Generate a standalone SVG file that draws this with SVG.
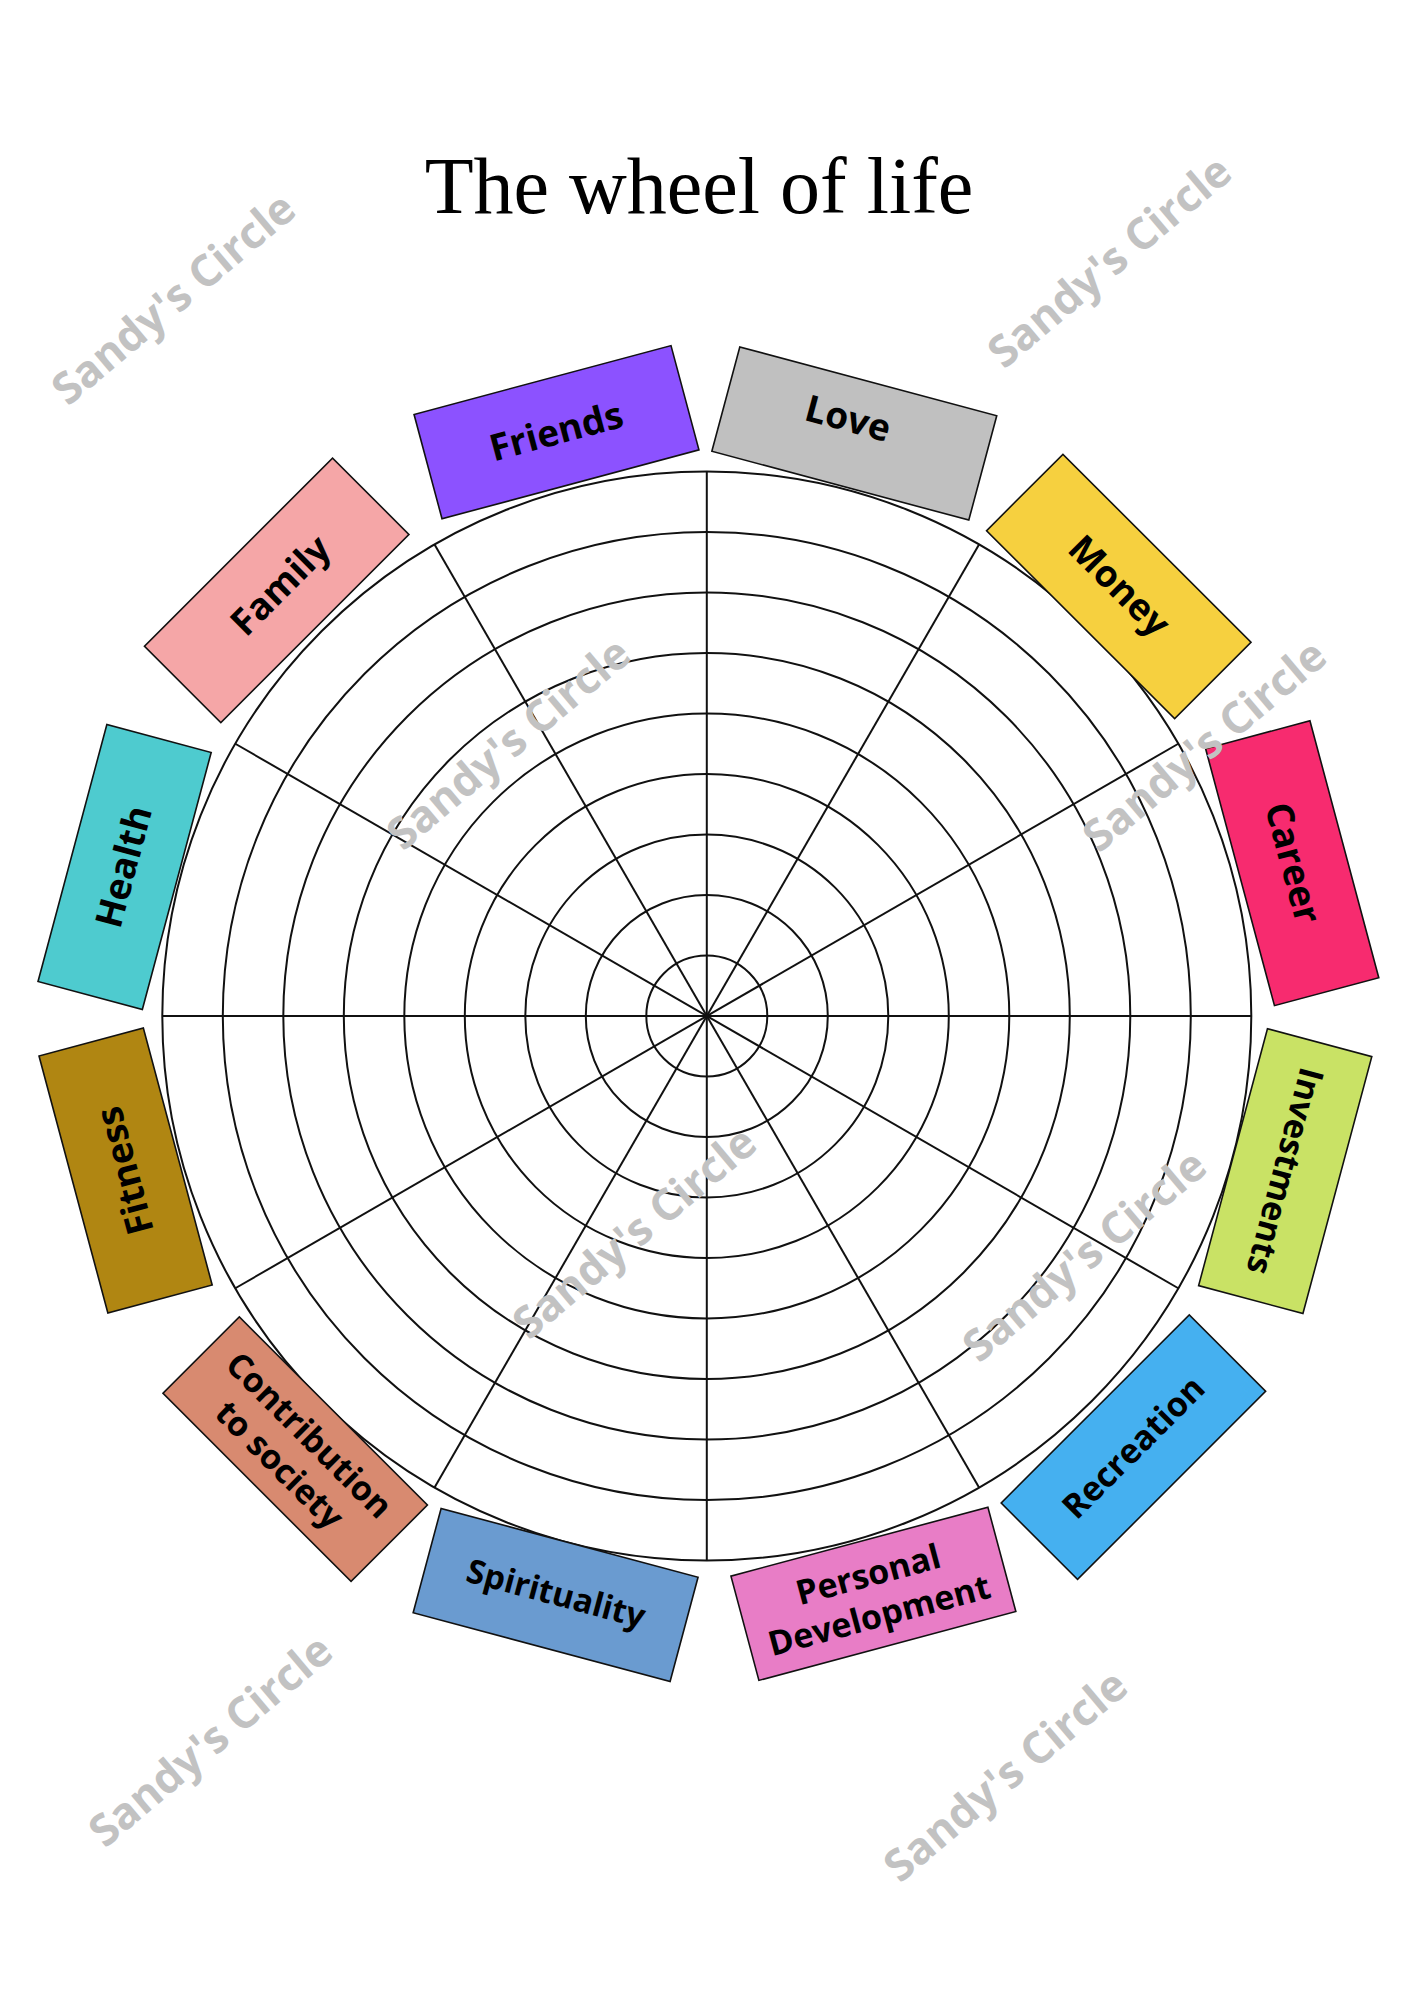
<svg xmlns="http://www.w3.org/2000/svg" width="1414" height="2000" viewBox="0 0 1414 2000">
<style>
.ring{fill:none;stroke:#111;stroke-width:2}
.spoke{stroke:#111;stroke-width:2}
.box{stroke:#111;stroke-width:1.6}
.lbl{font-family:"Open Sans","Noto Sans",sans-serif;font-weight:700;font-size:37px;fill:#000;text-anchor:middle}
.lbl2{font-family:"Open Sans","Noto Sans",sans-serif;font-weight:700;font-size:34px;fill:#000;text-anchor:middle}
.wm{font-family:"Open Sans","Noto Sans",sans-serif;font-weight:700;font-size:44px;fill:#c2c2c2;text-anchor:middle}
.title{font-family:"Liberation Serif","Times New Roman",serif;font-size:80px;fill:#000;text-anchor:middle}
</style>
<rect width="1414" height="2000" fill="#fff"/>
<text class="title" x="699" y="213">The wheel of life</text>
<g id="wheel" transform="translate(706.8,1016)">
<circle class="ring" r="60.5"/>
<circle class="ring" r="121"/>
<circle class="ring" r="181.5"/>
<circle class="ring" r="242"/>
<circle class="ring" r="302.5"/>
<circle class="ring" r="363"/>
<circle class="ring" r="423.5"/>
<circle class="ring" r="484"/>
<circle class="ring" r="544.5"/>
</g>
<g id="connectors" transform="translate(706.8,1016)">
<line class="spoke" x1="-544.5" y1="0" x2="544.5" y2="0"/>
<line class="spoke" x1="0" y1="-544.5" x2="0" y2="544.5"/>
<line class="spoke" x1="-471.5" y1="-272.25" x2="471.5" y2="272.25"/>
<line class="spoke" x1="-471.5" y1="272.25" x2="471.5" y2="-272.25"/>
<line class="spoke" x1="-272.25" y1="-471.5" x2="272.25" y2="471.5"/>
<line class="spoke" x1="-272.25" y1="471.5" x2="272.25" y2="-471.5"/>
</g>
<g id="friends" transform="translate(556.5,432.2) rotate(-15)">
<rect class="box" x="-133" y="-54" width="266" height="108" fill="#8c52ff"/>
<text class="lbl" y="12">Friends</text>
</g>
<g id="love" transform="translate(854.3,433.5) rotate(15)">
<rect class="box" x="-133" y="-54" width="266" height="108" fill="#c0c0c0"/>
<text class="lbl" x="-10" y="0">Love</text>
</g>
<g id="money" transform="translate(1118.8,586.5) rotate(45)">
<rect class="box" x="-133" y="-54" width="266" height="108" fill="#f6d03f"/>
<text class="lbl" y="12">Money</text>
</g>
<g id="career" transform="translate(1292.2,863.2) rotate(75)">
<rect class="box" x="-133" y="-54" width="266" height="108" fill="#f72b6f"/>
<text class="lbl" y="12">Career</text>
</g>
<g id="investments" transform="translate(1285.2,1171.1) rotate(105)">
<rect class="box" x="-133" y="-54" width="266" height="108" fill="#c9e265"/>
<text class="lbl" y="12" style="font-size:34px">Investments</text>
</g>
<g id="recreation" transform="translate(1133.4,1447.2) rotate(-45)">
<rect class="box" x="-133" y="-54" width="266" height="108" fill="#45b0f0"/>
<text class="lbl" y="12" style="font-size:34px">Recreation</text>
</g>
<g id="personal-development" transform="translate(873.4,1593.8) rotate(-15)">
<rect class="box" x="-133" y="-54" width="266" height="108" fill="#e87dc6"/>
<text class="lbl2" y="-8">Personal</text>
<text class="lbl2" y="34">Development</text>
</g>
<g id="spirituality" transform="translate(555.6,1595) rotate(15)">
<rect class="box" x="-133" y="-54" width="266" height="108" fill="#6a9bd0"/>
<text class="lbl" y="10" style="font-size:33px">Spirituality</text>
</g>
<g id="contribution" transform="translate(295.2,1449.2) rotate(45)">
<rect class="box" x="-133" y="-54" width="266" height="108" fill="#d88a70"/>
<text class="lbl2" y="-8">Contribution</text>
<text class="lbl2" y="34">to society</text>
</g>
<g id="fitness" transform="translate(125.6,1170.5) rotate(-105)">
<rect class="box" x="-133" y="-54" width="266" height="108" fill="#b08612"/>
<text class="lbl" y="12">Fitness</text>
</g>
<g id="health" transform="translate(124.6,867) rotate(-75)">
<rect class="box" x="-133" y="-54" width="266" height="108" fill="#4ecbcf"/>
<text class="lbl" y="12">Health</text>
</g>
<g id="family" transform="translate(276.7,590.3) rotate(-45)">
<rect class="box" x="-133" y="-54" width="266" height="108" fill="#f5a6a7"/>
<text class="lbl" x="6" y="12">Family</text>
</g>
<g id="watermarks">
<text class="wm" transform="translate(173,298) rotate(-40)" y="16">Sandy's Circle</text>
<text class="wm" transform="translate(1109,261) rotate(-40)" y="16">Sandy's Circle</text>
<text class="wm" transform="translate(508,743) rotate(-40)" y="16">Sandy's Circle</text>
<text class="wm" transform="translate(1204,745) rotate(-40)" y="16">Sandy's Circle</text>
<text class="wm" transform="translate(634,1232) rotate(-40)" y="16">Sandy's Circle</text>
<text class="wm" transform="translate(1084,1255) rotate(-40)" y="16">Sandy's Circle</text>
<text class="wm" transform="translate(210,1740) rotate(-40)" y="16">Sandy's Circle</text>
<text class="wm" transform="translate(1005,1775) rotate(-40)" y="16">Sandy's Circle</text>
</g>
</svg>
